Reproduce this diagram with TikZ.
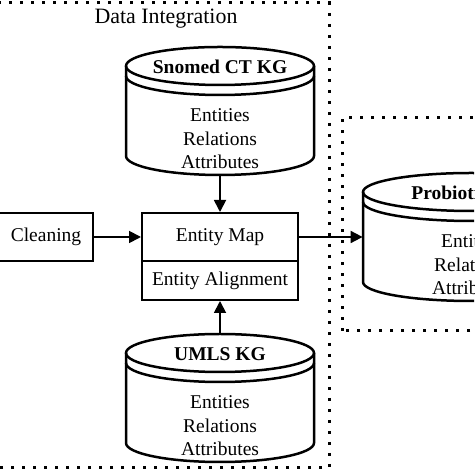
\documentclass[tikz,border=0pt]{standalone}
\usepackage{fontspec}
\setmainfont{Liberation Serif}
\usetikzlibrary{positioning}
\usetikzlibrary{arrows.meta}
\tikzset{
        textnode/.style={align=center,inner sep=0pt,font=\fontsize{9.75}{11.75}\selectfont},
        % Process boxes
        node_box/.style={textnode, rectangle, draw=black, line width=1pt},
        % Space taken by a knowledge graph drum
        node_kg/.style={inner sep=0pt, minimum height=64pt},
        % Drum outline
        kg_line/.style={line width=1.25pt},
        % Dotted group frames
        group_frame/.style={line width=1.5pt, dash pattern=on 1.3pt off 4.2pt},
        % Connectors
        flow/.style={-{Triangle[length=6pt,width=6pt]}, line width=0.9pt}
}
% drum: name, x, y of top ellipse, x radius, title
\newcommand{\kgdrum}[5]{%
    \node[node_kg, minimum width={#4*1pt}] (#1) at (#2,{#3-45}) {};
    \draw[kg_line] ({#2-#4},#3) -- ({#2-#4},{#3-90})
        arc[start angle=180, end angle=360, x radius=#4, y radius=19] -- ({#2+#4},#3);
    \draw[kg_line] (#2,#3) ellipse[x radius=#4, y radius=19];
    \draw[kg_line] ({#2-#4},{#3-10}) arc[start angle=180, end angle=360, x radius=#4, y radius=19];
    \node[textnode, font=\bfseries\fontsize{9.75}{11.75}\selectfont] (#1_title) at (#2,{#3-1}) {#5};
    \node[textnode] (#1_text) at (#2,{#3-73}) {Entities\\Relations\\Attributes};
}

\begin{document}
\begin{tikzpicture}[x=0.5pt, y=0.5pt]
    \clip (0,0) rectangle (474,474);
    % Frames
    \draw[group_frame] (-10,6) rectangle (329,471);
    \draw[group_frame] (342,143) rectangle (490,356);
    \node[textnode, font=\fontsize{10.95}{13}\selectfont] (group_title) at (166,455) {Data Integration};

    % Knowledge graphs
    \kgdrum{snomed}{220}{408}{94}{Snomed CT KG}
    \kgdrum{umls}{220}{121}{94}{UMLS KG}
    \kgdrum{probio}{471}{282}{108}{Probiotics KG}

    % Mapping
    \node[node_box, minimum width=78pt, minimum height=24pt] (entity_map) at (220,237) {Entity Map};
    \node[node_box, minimum width=78pt, minimum height=19.5pt, below=-1pt of entity_map] (entity_align) {Entity Alignment};
    \node[node_box, minimum width=47pt, minimum height=24pt, left=23.5pt of entity_map] (cleaning) {Cleaning};

    \draw[flow] (cleaning) -- (entity_map);
    \draw[flow] (snomed) -- (entity_map);
    \draw[flow] (umls) -- (entity_align);
    \draw[flow] (entity_map) -- (probio);
\end{tikzpicture}
\end{document}
